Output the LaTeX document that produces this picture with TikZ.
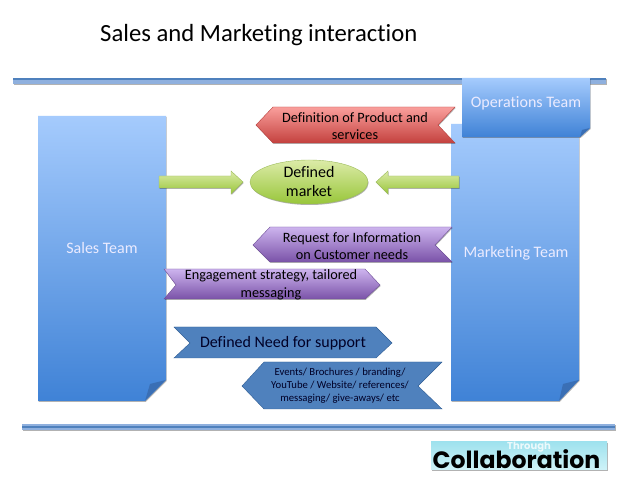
\documentclass[tikz,border=0pt]{standalone}
\usepackage{fontspec}
\setmainfont{Carlito}[RawFeature={-liga}]
\newfontfamily\logofont{Poppins}
\usetikzlibrary{shadows}
\usetikzlibrary{shapes.geometric}

\definecolor{paneltop}{HTML}{A5CBFD}
\definecolor{panelbot}{HTML}{3F82D6}
\definecolor{folddark}{HTML}{3A6FB5}
\definecolor{linelight}{HTML}{8FB0DE}
\definecolor{linedark}{HTML}{4F81BD}
\definecolor{redtop}{HTML}{FA9F9C}
\definecolor{redbot}{HTML}{C4413E}
\definecolor{redline}{HTML}{B9403D}
\definecolor{purptop}{HTML}{CDB4EE}
\definecolor{purpbot}{HTML}{7A52A8}
\definecolor{purpline}{HTML}{6F4F98}
\definecolor{bluefill}{HTML}{4F81BD}
\definecolor{blueline}{HTML}{2F5D94}
\definecolor{greentop}{HTML}{DCEBA8}
\definecolor{greenbot}{HTML}{98C63A}
\definecolor{greenline}{HTML}{9BBB59}
\definecolor{logotop}{HTML}{9FE2EE}
\definecolor{logobot}{HTML}{CFF3F8}

\tikzset{
	softshadow/.style={drop shadow={shadow xshift=.6pt, shadow yshift=-1pt, opacity=.3, fill=black}},
	panel/.style={top color=paneltop, bottom color=panelbot, softshadow},
	foldcorner/.style={fill=folddark},
	rule/.style={fill=linelight, softshadow},
	ruledark/.style={fill=linedark},
	redtag/.style={draw=redline, top color=redtop, bottom color=redbot, softshadow},
	purptag/.style={draw=purpline, top color=purptop, bottom color=purpbot, softshadow},
	bluetag/.style={draw=blueline, fill=bluefill},
	greenarrow/.style={draw=greenline, top color=greentop, bottom color=greenbot, softshadow},
	paneltext/.style={text=white!92!blue, font=\fontsize{16}{19}\selectfont},
	tagtext/.style={align=center, font=\fontsize{14.25}{17.5}\selectfont},
}

\begin{document}
\begin{tikzpicture}[x=1pt, y=-1pt]
	\useasboundingbox (0,0) rectangle (638,478);
	\fill[white] (0,0) rectangle (638,478);

	% Title
	\node[anchor=west, inner sep=0pt, font=\fontsize{24.7}{30}\selectfont] (title) at (100,35) {Sales and Marketing interaction};

	% Top and bottom rules
	\path[rule] (13,78) rectangle (606,84);
	\fill[ruledark] (13,78) rectangle (606,80);
	\path[rule] (22,424) rectangle (615,430);
	\fill[ruledark] (22,426.5) rectangle (615,428);

	% Sales panel
	\path[panel] (38,116) -- (166,116) -- (166,380) -- (145,401) -- (38,401) -- cycle;
	\fill[foldcorner] (166,380) -- (150,384) -- (145,401) -- cycle;
	\node[paneltext] (sales) at (102,248) {Sales Team};

	% Marketing panel
	\path[panel] (451,124) -- (579,124) -- (579,380) -- (559,401) -- (451,401) -- cycle;
	\fill[foldcorner] (579,380) -- (563,384) -- (559,401) -- cycle;
	\node[paneltext] (marketing) at (516,253) {Marketing Team};

	% Operations panel
	\path[panel] (462,78) -- (590,78) -- (590,128) -- (580,137) -- (462,137) -- cycle;
	\fill[foldcorner] (590,128) -- (582,130) -- (580,137) -- cycle;
	\node[paneltext] (operations) at (526,103) {Operations Team};

	% Block arrows towards the market
	\path[greenarrow] (159,176) -- (231,176) -- (231,171) -- (243,182) -- (231,194) -- (231,188) -- (159,188) -- cycle;
	\path[greenarrow] (459,176) -- (388,176) -- (388,171) -- (376,182) -- (388,194) -- (388,188) -- (459,188) -- cycle;

	% Defined market
	\node[ellipse, draw=greenline, top color=greentop, bottom color=greenbot, softshadow, minimum width=118pt, minimum height=44pt, inner sep=0pt, align=center, font=\fontsize{16}{19}\selectfont] (market) at (309,182) {Defined\\market};

	% Red tag
	\path[redtag] (256,125) -- (273,107) -- (455,107) -- (438,125) -- (455,143) -- (273,143) -- cycle;
	\node[tagtext] (product) at (355,126) {Definition of Product and\\services};

	% Purple tags
	\path[purptag] (253,245) -- (270,227) -- (452,227) -- (435,245) -- (452,262) -- (270,262) -- cycle;
	\node[tagtext] (request) at (352,246) {Request for Information\\on Customer needs};
	\path[purptag] (164,269) -- (365,269) -- (380,285) -- (365,299) -- (164,299) -- (176,285) -- cycle;
	\node[tagtext] (engagement) at (271,285) {Engagement strategy, tailored\\messaging};

	% Blue tags
	\path[bluetag] (174,327) -- (376,327) -- (392,343) -- (376,358) -- (174,358) -- (190,343) -- cycle;
	\node[font=\fontsize{16}{19}\selectfont, text=black!85!blue] (need) at (283,343) {Defined Need for support};
	\path[bluetag] (242,386) -- (264,362) -- (442,362) -- (418,386) -- (442,409) -- (264,409) -- cycle;
	\node[align=center, font=\fontsize{10.7}{13}\selectfont, text=black!85!blue] (events) at (340,386) {Events/ Brochures / branding/\\YouTube / Website/ references/\\messaging/ give-aways/ etc};

	% Logo
	\path[top color=logotop, bottom color=logobot, softshadow] (431,442) rectangle (607,470);
	\node[text=white, opacity=.8, font=\logofont\bfseries\fontsize{10}{11}\selectfont] (through) at (529,447) {Through};
	\node[font=\logofont\bfseries\fontsize{23.6}{26}\selectfont, inner sep=0pt] (logo) at (516.5,459) {Collaboration};
\end{tikzpicture}
\end{document}
